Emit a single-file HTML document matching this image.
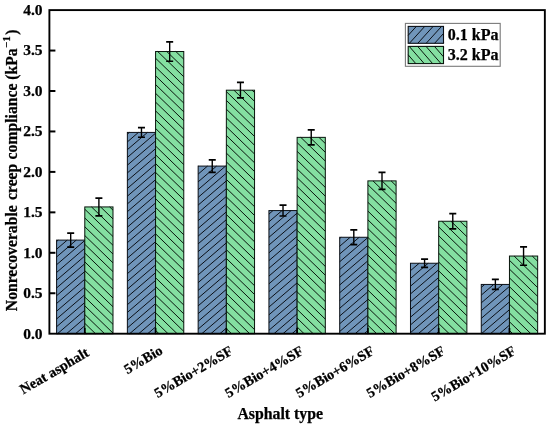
<!DOCTYPE html>
<html><head><meta charset="utf-8"><title>Nonrecoverable creep compliance</title>
<style>
html,body{margin:0;padding:0;background:#fff;}
body{width:550px;height:426px;overflow:hidden;}
svg{display:block;}
text{font-family:"Liberation Serif","Times New Roman",serif;font-weight:bold;fill:#000;stroke:#000;stroke-width:0.25px;}
</style></head><body>
<svg width="550" height="426" viewBox="0 0 550 426">
<rect width="550" height="426" fill="#fff"/>

<rect x="56.59" y="240.10" width="28.20" height="93.60" fill="#7095ba"/><path d="M56.59 241.48L58.20 240.10M56.59 249.23L67.22 240.10M56.59 256.98L76.24 240.10M56.59 264.73L84.79 240.51M56.59 272.48L84.79 248.26M56.59 280.23L84.79 256.01M56.59 287.98L84.79 263.76M56.59 295.73L84.79 271.51M56.59 303.48L84.79 279.26M56.59 311.23L84.79 287.01M56.59 318.98L84.79 294.76M56.59 326.73L84.79 302.51M57.50 333.70L84.79 310.26M66.52 333.70L84.79 318.01M75.54 333.70L84.79 325.76" stroke="#0a0f16" stroke-width="1.0" fill="none"/><rect x="56.59" y="240.10" width="28.20" height="93.60" fill="none" stroke="#0a0f16" stroke-width="1.0"/>
<rect x="84.79" y="206.93" width="28.20" height="126.77" fill="#84dfa1"/><path d="M109.65 206.93L112.99 210.16M100.58 206.93L112.99 218.94M91.51 206.93L112.99 227.72M84.79 209.20L112.99 236.50M84.79 217.98L112.99 245.28M84.79 226.76L112.99 254.06M84.79 235.54L112.99 262.84M84.79 244.32L112.99 271.62M84.79 253.10L112.99 280.40M84.79 261.88L112.99 289.18M84.79 270.66L112.99 297.96M84.79 279.44L112.99 306.74M84.79 288.22L112.99 315.52M84.79 297.00L112.99 324.30M84.79 305.78L112.99 333.08M84.79 314.56L104.56 333.70M84.79 323.34L95.49 333.70M84.79 332.12L86.42 333.70" stroke="#08140c" stroke-width="1.0" fill="none"/><rect x="84.79" y="206.93" width="28.20" height="126.77" fill="none" stroke="#08140c" stroke-width="1.0"/>
<rect x="127.37" y="132.42" width="28.20" height="201.28" fill="#7095ba"/><path d="M127.37 134.18L129.41 132.42M127.37 141.93L138.43 132.42M127.37 149.68L147.46 132.42M127.37 157.43L155.57 133.20M127.37 165.18L155.57 140.95M127.37 172.93L155.57 148.70M127.37 180.68L155.57 156.45M127.37 188.43L155.57 164.20M127.37 196.18L155.57 171.95M127.37 203.93L155.57 179.70M127.37 211.68L155.57 187.45M127.37 219.43L155.57 195.20M127.37 227.18L155.57 202.95M127.37 234.93L155.57 210.70M127.37 242.68L155.57 218.45M127.37 250.43L155.57 226.20M127.37 258.18L155.57 233.95M127.37 265.93L155.57 241.70M127.37 273.68L155.57 249.45M127.37 281.43L155.57 257.20M127.37 289.18L155.57 264.95M127.37 296.93L155.57 272.70M127.37 304.68L155.57 280.45M127.37 312.43L155.57 288.20M127.37 320.18L155.57 295.95M127.37 327.93L155.57 303.70M129.67 333.70L155.57 311.45M138.69 333.70L155.57 319.20M147.71 333.70L155.57 326.95" stroke="#0a0f16" stroke-width="1.0" fill="none"/><rect x="127.37" y="132.42" width="28.20" height="201.28" fill="none" stroke="#0a0f16" stroke-width="1.0"/>
<rect x="155.57" y="51.52" width="28.20" height="282.18" fill="#84dfa1"/><path d="M175.86 51.52L183.77 59.18M166.79 51.52L183.77 67.96M157.72 51.52L183.77 76.74M155.57 58.22L183.77 85.52M155.57 67.00L183.77 94.30M155.57 75.78L183.77 103.08M155.57 84.56L183.77 111.86M155.57 93.34L183.77 120.64M155.57 102.12L183.77 129.42M155.57 110.90L183.77 138.20M155.57 119.68L183.77 146.98M155.57 128.46L183.77 155.76M155.57 137.24L183.77 164.54M155.57 146.02L183.77 173.32M155.57 154.80L183.77 182.10M155.57 163.58L183.77 190.88M155.57 172.36L183.77 199.66M155.57 181.14L183.77 208.44M155.57 189.92L183.77 217.22M155.57 198.70L183.77 226.00M155.57 207.48L183.77 234.78M155.57 216.26L183.77 243.56M155.57 225.04L183.77 252.34M155.57 233.82L183.77 261.12M155.57 242.60L183.77 269.90M155.57 251.38L183.77 278.68M155.57 260.16L183.77 287.46M155.57 268.94L183.77 296.24M155.57 277.72L183.77 305.02M155.57 286.50L183.77 313.80M155.57 295.28L183.77 322.58M155.57 304.06L183.77 331.36M155.57 312.84L177.12 333.70M155.57 321.62L168.05 333.70M155.57 330.40L158.98 333.70" stroke="#08140c" stroke-width="1.0" fill="none"/><rect x="155.57" y="51.52" width="28.20" height="282.18" fill="none" stroke="#08140c" stroke-width="1.0"/>
<rect x="198.15" y="166.08" width="28.20" height="167.62" fill="#7095ba"/><path d="M198.15 166.37L198.49 166.08M198.15 174.12L207.51 166.08M198.15 181.87L216.53 166.08M198.15 189.62L225.55 166.08M198.15 197.37L226.35 173.14M198.15 205.12L226.35 180.89M198.15 212.87L226.35 188.64M198.15 220.62L226.35 196.39M198.15 228.37L226.35 204.14M198.15 236.12L226.35 211.89M198.15 243.87L226.35 219.64M198.15 251.62L226.35 227.39M198.15 259.37L226.35 235.14M198.15 267.12L226.35 242.89M198.15 274.87L226.35 250.64M198.15 282.62L226.35 258.39M198.15 290.37L226.35 266.14M198.15 298.12L226.35 273.89M198.15 305.87L226.35 281.64M198.15 313.62L226.35 289.39M198.15 321.37L226.35 297.14M198.15 329.12L226.35 304.89M201.84 333.70L226.35 312.64M210.86 333.70L226.35 320.39M219.88 333.70L226.35 328.14" stroke="#0a0f16" stroke-width="1.0" fill="none"/><rect x="198.15" y="166.08" width="28.20" height="167.62" fill="none" stroke="#0a0f16" stroke-width="1.0"/>
<rect x="226.35" y="90.19" width="28.20" height="243.51" fill="#84dfa1"/><path d="M252.08 90.19L254.55 92.57M243.01 90.19L254.55 101.35M233.94 90.19L254.55 110.13M226.35 91.62L254.55 118.91M226.35 100.40L254.55 127.69M226.35 109.18L254.55 136.47M226.35 117.96L254.55 145.25M226.35 126.74L254.55 154.03M226.35 135.52L254.55 162.81M226.35 144.30L254.55 171.59M226.35 153.08L254.55 180.37M226.35 161.86L254.55 189.15M226.35 170.64L254.55 197.93M226.35 179.42L254.55 206.71M226.35 188.20L254.55 215.49M226.35 196.98L254.55 224.27M226.35 205.76L254.55 233.05M226.35 214.54L254.55 241.83M226.35 223.32L254.55 250.61M226.35 232.10L254.55 259.39M226.35 240.88L254.55 268.17M226.35 249.66L254.55 276.95M226.35 258.44L254.55 285.73M226.35 267.22L254.55 294.51M226.35 276.00L254.55 303.29M226.35 284.78L254.55 312.07M226.35 293.56L254.55 320.85M226.35 302.34L254.55 329.63M226.35 311.12L249.68 333.70M226.35 319.90L240.61 333.70M226.35 328.68L231.54 333.70" stroke="#08140c" stroke-width="1.0" fill="none"/><rect x="226.35" y="90.19" width="28.20" height="243.51" fill="none" stroke="#08140c" stroke-width="1.0"/>
<rect x="268.93" y="210.57" width="28.20" height="123.13" fill="#7095ba"/><path d="M268.93 214.07L272.99 210.57M268.93 221.82L282.01 210.57M268.93 229.57L291.04 210.57M268.93 237.32L297.12 213.09M268.93 245.07L297.12 220.84M268.93 252.82L297.12 228.59M268.93 260.57L297.12 236.34M268.93 268.32L297.12 244.09M268.93 276.07L297.12 251.84M268.93 283.82L297.12 259.59M268.93 291.57L297.12 267.34M268.93 299.32L297.12 275.09M268.93 307.07L297.12 282.84M268.93 314.82L297.12 290.59M268.93 322.57L297.12 298.34M268.93 330.32L297.12 306.09M274.01 333.70L297.12 313.84M283.03 333.70L297.12 321.59M292.05 333.70L297.12 329.34" stroke="#0a0f16" stroke-width="1.0" fill="none"/><rect x="268.93" y="210.57" width="28.20" height="123.13" fill="none" stroke="#0a0f16" stroke-width="1.0"/>
<rect x="297.12" y="137.36" width="28.20" height="196.34" fill="#84dfa1"/><path d="M318.95 137.36L325.32 143.53M309.88 137.36L325.32 152.31M300.81 137.36L325.32 161.09M297.12 142.57L325.32 169.87M297.12 151.35L325.32 178.65M297.12 160.13L325.32 187.43M297.12 168.91L325.32 196.21M297.12 177.69L325.32 204.99M297.12 186.47L325.32 213.77M297.12 195.25L325.32 222.55M297.12 204.03L325.32 231.33M297.12 212.81L325.32 240.11M297.12 221.59L325.32 248.89M297.12 230.37L325.32 257.67M297.12 239.15L325.32 266.45M297.12 247.93L325.32 275.23M297.12 256.71L325.32 284.01M297.12 265.49L325.32 292.79M297.12 274.27L325.32 301.57M297.12 283.05L325.32 310.35M297.12 291.83L325.32 319.13M297.12 300.61L325.32 327.91M297.12 309.39L322.23 333.70M297.12 318.17L313.16 333.70M297.12 326.95L304.10 333.70" stroke="#08140c" stroke-width="1.0" fill="none"/><rect x="297.12" y="137.36" width="28.20" height="196.34" fill="none" stroke="#08140c" stroke-width="1.0"/>
<rect x="339.70" y="237.27" width="28.20" height="96.43" fill="#7095ba"/><path d="M339.70 238.51L341.15 237.27M339.70 246.26L350.17 237.27M339.70 254.01L359.19 237.27M339.70 261.76L367.90 237.53M339.70 269.51L367.90 245.28M339.70 277.26L367.90 253.03M339.70 285.01L367.90 260.78M339.70 292.76L367.90 268.53M339.70 300.51L367.90 276.28M339.70 308.26L367.90 284.03M339.70 316.01L367.90 291.78M339.70 323.76L367.90 299.53M339.70 331.51L367.90 307.28M346.17 333.70L367.90 315.03M355.20 333.70L367.90 322.78M364.22 333.70L367.90 330.53" stroke="#0a0f16" stroke-width="1.0" fill="none"/><rect x="339.70" y="237.27" width="28.20" height="96.43" fill="none" stroke="#0a0f16" stroke-width="1.0"/>
<rect x="367.90" y="180.88" width="28.20" height="152.82" fill="#84dfa1"/><path d="M391.11 180.88L396.10 185.71M382.05 180.88L396.10 194.49M372.98 180.88L396.10 203.27M367.90 184.75L396.10 212.05M367.90 193.53L396.10 220.83M367.90 202.31L396.10 229.61M367.90 211.09L396.10 238.39M367.90 219.87L396.10 247.17M367.90 228.65L396.10 255.95M367.90 237.43L396.10 264.73M367.90 246.21L396.10 273.51M367.90 254.99L396.10 282.29M367.90 263.77L396.10 291.07M367.90 272.55L396.10 299.85M367.90 281.33L396.10 308.63M367.90 290.11L396.10 317.41M367.90 298.89L396.10 326.19M367.90 307.67L394.79 333.70M367.90 316.45L385.72 333.70M367.90 325.23L376.65 333.70" stroke="#08140c" stroke-width="1.0" fill="none"/><rect x="367.90" y="180.88" width="28.20" height="152.82" fill="none" stroke="#08140c" stroke-width="1.0"/>
<rect x="410.48" y="263.24" width="28.20" height="70.46" fill="#7095ba"/><path d="M410.48 270.70L419.17 263.24M410.48 278.45L428.19 263.24M410.48 286.20L437.22 263.24M410.48 293.95L438.68 269.73M410.48 301.70L438.68 277.48M410.48 309.45L438.68 285.23M410.48 317.20L438.68 292.98M410.48 324.95L438.68 300.73M410.48 332.70L438.68 308.48M418.34 333.70L438.68 316.23M427.36 333.70L438.68 323.98M436.38 333.70L438.68 331.73" stroke="#0a0f16" stroke-width="1.0" fill="none"/><rect x="410.48" y="263.24" width="28.20" height="70.46" fill="none" stroke="#0a0f16" stroke-width="1.0"/>
<rect x="438.68" y="221.25" width="28.20" height="112.45" fill="#84dfa1"/><path d="M460.03 221.25L466.88 227.89M450.96 221.25L466.88 236.67M441.89 221.25L466.88 245.45M438.68 226.93L466.88 254.23M438.68 235.71L466.88 263.01M438.68 244.49L466.88 271.79M438.68 253.27L466.88 280.57M438.68 262.05L466.88 289.35M438.68 270.83L466.88 298.13M438.68 279.61L466.88 306.91M438.68 288.39L466.88 315.69M438.68 297.17L466.88 324.47M438.68 305.95L466.88 333.25M438.68 314.73L458.28 333.70M438.68 323.51L449.21 333.70M438.68 332.29L440.14 333.70" stroke="#08140c" stroke-width="1.0" fill="none"/><rect x="438.68" y="221.25" width="28.20" height="112.45" fill="none" stroke="#08140c" stroke-width="1.0"/>
<rect x="481.26" y="284.43" width="28.20" height="49.27" fill="#7095ba"/><path d="M481.26 287.40L484.71 284.43M481.26 295.15L493.73 284.43M481.26 302.90L502.75 284.43M481.26 310.65L509.46 286.42M481.26 318.40L509.46 294.17M481.26 326.15L509.46 301.92M481.49 333.70L509.46 309.67M490.51 333.70L509.46 317.42M499.53 333.70L509.46 325.17M508.55 333.70L509.46 332.92" stroke="#0a0f16" stroke-width="1.0" fill="none"/><rect x="481.26" y="284.43" width="28.20" height="49.27" fill="none" stroke="#0a0f16" stroke-width="1.0"/>
<rect x="509.46" y="256.04" width="28.20" height="77.66" fill="#84dfa1"/><path d="M532.24 256.04L537.66 261.28M523.17 256.04L537.66 270.06M514.10 256.04L537.66 278.84M509.46 260.32L537.66 287.62M509.46 269.10L537.66 296.40M509.46 277.88L537.66 305.18M509.46 286.66L537.66 313.96M509.46 295.44L537.66 322.74M509.46 304.22L537.66 331.52M509.46 313.00L530.84 333.70M509.46 321.78L521.77 333.70M509.46 330.56L512.70 333.70" stroke="#08140c" stroke-width="1.0" fill="none"/><rect x="509.46" y="256.04" width="28.20" height="77.66" fill="none" stroke="#08140c" stroke-width="1.0"/>
<path d="M70.69 233.14V247.06" stroke="#000" stroke-width="1.4" fill="none"/><path d="M67.19 233.14H74.19M67.19 247.06H74.19" stroke="#000" stroke-width="1.7" fill="none"/>
<path d="M98.89 198.03V215.83" stroke="#000" stroke-width="1.4" fill="none"/><path d="M95.39 198.03H102.39M95.39 215.83H102.39" stroke="#000" stroke-width="1.7" fill="none"/>
<path d="M141.47 127.57V137.27" stroke="#000" stroke-width="1.4" fill="none"/><path d="M137.97 127.57H144.97M137.97 137.27H144.97" stroke="#000" stroke-width="1.7" fill="none"/>
<path d="M169.67 41.81V61.23" stroke="#000" stroke-width="1.4" fill="none"/><path d="M166.17 41.81H173.17M166.17 61.23H173.17" stroke="#000" stroke-width="1.7" fill="none"/>
<path d="M212.25 159.85V172.30" stroke="#000" stroke-width="1.4" fill="none"/><path d="M208.75 159.85H215.75M208.75 172.30H215.75" stroke="#000" stroke-width="1.7" fill="none"/>
<path d="M240.45 82.42V97.96" stroke="#000" stroke-width="1.4" fill="none"/><path d="M236.95 82.42H243.95M236.95 97.96H243.95" stroke="#000" stroke-width="1.7" fill="none"/>
<path d="M283.02 205.15V215.99" stroke="#000" stroke-width="1.4" fill="none"/><path d="M279.52 205.15H286.52M279.52 215.99H286.52" stroke="#000" stroke-width="1.7" fill="none"/>
<path d="M311.23 129.83V144.88" stroke="#000" stroke-width="1.4" fill="none"/><path d="M307.73 129.83H314.73M307.73 144.88H314.73" stroke="#000" stroke-width="1.7" fill="none"/>
<path d="M353.80 229.91V244.63" stroke="#000" stroke-width="1.4" fill="none"/><path d="M350.30 229.91H357.30M350.30 244.63H357.30" stroke="#000" stroke-width="1.7" fill="none"/>
<path d="M382.00 172.30V189.46" stroke="#000" stroke-width="1.4" fill="none"/><path d="M378.50 172.30H385.50M378.50 189.46H385.50" stroke="#000" stroke-width="1.7" fill="none"/>
<path d="M424.58 259.19V267.28" stroke="#000" stroke-width="1.4" fill="none"/><path d="M421.08 259.19H428.08M421.08 267.28H428.08" stroke="#000" stroke-width="1.7" fill="none"/>
<path d="M452.78 213.64V228.85" stroke="#000" stroke-width="1.4" fill="none"/><path d="M449.28 213.64H456.28M449.28 228.85H456.28" stroke="#000" stroke-width="1.7" fill="none"/>
<path d="M495.36 279.42V289.45" stroke="#000" stroke-width="1.4" fill="none"/><path d="M491.86 279.42H498.86M491.86 289.45H498.86" stroke="#000" stroke-width="1.7" fill="none"/>
<path d="M523.56 246.81V265.26" stroke="#000" stroke-width="1.4" fill="none"/><path d="M520.06 246.81H527.06M520.06 265.26H527.06" stroke="#000" stroke-width="1.7" fill="none"/>
<rect x="49.4" y="10.1" width="495.45" height="323.60" fill="none" stroke="#000" stroke-width="1.9"/>
<text x="42.5" y="338.50" font-size="15.5" text-anchor="end">0.0</text>
<line x1="49.4" y1="293.25" x2="55.40" y2="293.25" stroke="#000" stroke-width="2.0"/>
<text x="42.5" y="298.05" font-size="15.5" text-anchor="end">0.5</text>
<line x1="49.4" y1="252.80" x2="55.40" y2="252.80" stroke="#000" stroke-width="2.0"/>
<text x="42.5" y="257.60" font-size="15.5" text-anchor="end">1.0</text>
<line x1="49.4" y1="212.35" x2="55.40" y2="212.35" stroke="#000" stroke-width="2.0"/>
<text x="42.5" y="217.15" font-size="15.5" text-anchor="end">1.5</text>
<line x1="49.4" y1="171.90" x2="55.40" y2="171.90" stroke="#000" stroke-width="2.0"/>
<text x="42.5" y="176.70" font-size="15.5" text-anchor="end">2.0</text>
<line x1="49.4" y1="131.45" x2="55.40" y2="131.45" stroke="#000" stroke-width="2.0"/>
<text x="42.5" y="136.25" font-size="15.5" text-anchor="end">2.5</text>
<line x1="49.4" y1="91.00" x2="55.40" y2="91.00" stroke="#000" stroke-width="2.0"/>
<text x="42.5" y="95.80" font-size="15.5" text-anchor="end">3.0</text>
<line x1="49.4" y1="50.55" x2="55.40" y2="50.55" stroke="#000" stroke-width="2.0"/>
<text x="42.5" y="55.35" font-size="15.5" text-anchor="end">3.5</text>
<text x="42.5" y="14.90" font-size="15.5" text-anchor="end">4.0</text>
<line x1="84.79" y1="333.7" x2="84.79" y2="327.90" stroke="#000" stroke-width="1.7"/>
<line x1="155.57" y1="333.7" x2="155.57" y2="327.90" stroke="#000" stroke-width="1.7"/>
<line x1="226.35" y1="333.7" x2="226.35" y2="327.90" stroke="#000" stroke-width="1.7"/>
<line x1="297.12" y1="333.7" x2="297.12" y2="327.90" stroke="#000" stroke-width="1.7"/>
<line x1="367.90" y1="333.7" x2="367.90" y2="327.90" stroke="#000" stroke-width="1.7"/>
<line x1="438.68" y1="333.7" x2="438.68" y2="327.90" stroke="#000" stroke-width="1.7"/>
<line x1="509.46" y1="333.7" x2="509.46" y2="327.90" stroke="#000" stroke-width="1.7"/>
<text transform="translate(89.79 355.40) rotate(-30.5)" font-size="14.4" text-anchor="end">Neat asphalt</text>
<text transform="translate(163.57 353.10) rotate(-30.5)" font-size="14.25" text-anchor="end">5%Bio</text>
<text transform="translate(233.65 353.50) rotate(-30.5)" font-size="14.25" text-anchor="end">5%Bio+2%SF</text>
<text transform="translate(304.43 353.50) rotate(-30.5)" font-size="14.25" text-anchor="end">5%Bio+4%SF</text>
<text transform="translate(375.20 353.50) rotate(-30.5)" font-size="14.25" text-anchor="end">5%Bio+6%SF</text>
<text transform="translate(445.98 353.50) rotate(-30.5)" font-size="14.25" text-anchor="end">5%Bio+8%SF</text>
<text transform="translate(516.76 353.50) rotate(-30.5)" font-size="14.25" text-anchor="end">5%Bio+10%SF</text>
<text x="280.2" y="419" font-size="15.8" text-anchor="middle">Asphalt type</text>
<text transform="translate(16.5 170.4) rotate(-90)" font-size="15.68" text-anchor="middle">Nonrecoverable <tspan dx="1.4">creep</tspan> <tspan dx="0.4">compliance (kPa</tspan><tspan font-size="10.5" dy="-6.8" dx="1.0">−1</tspan><tspan dy="6.8" dx="1.3">)</tspan></text>
<rect x="405.4" y="23.4" width="94.8" height="42.9" fill="#fff" stroke="#7a7a7a" stroke-width="1.1"/>
<rect x="408.20" y="26.40" width="35.30" height="16.90" fill="#7095ba"/><path d="M408.20 35.36L416.35 26.40M409.38 43.30L424.75 26.40M417.78 43.30L433.15 26.40M426.18 43.30L441.55 26.40M434.58 43.30L443.50 33.49M442.98 43.30L443.50 42.73" stroke="#0a0f16" stroke-width="1.0" fill="none"/><rect x="408.20" y="26.40" width="35.30" height="16.90" fill="none" stroke="#0a0f16" stroke-width="1.1"/>
<rect x="408.20" y="46.40" width="35.30" height="17.20" fill="#84dfa1"/><path d="M442.85 46.40L443.50 47.14M434.45 46.40L443.50 56.81M426.05 46.40L441.01 63.60M417.65 46.40L432.61 63.60M409.25 46.40L424.21 63.60M408.20 54.85L415.81 63.60" stroke="#08140c" stroke-width="1.0" fill="none"/><rect x="408.20" y="46.40" width="35.30" height="17.20" fill="none" stroke="#08140c" stroke-width="1.1"/>
<text x="447.8" y="40.3" font-size="16">0.1 kPa</text>
<text x="447.8" y="59.7" font-size="16">3.2 kPa</text>
</svg></body></html>
